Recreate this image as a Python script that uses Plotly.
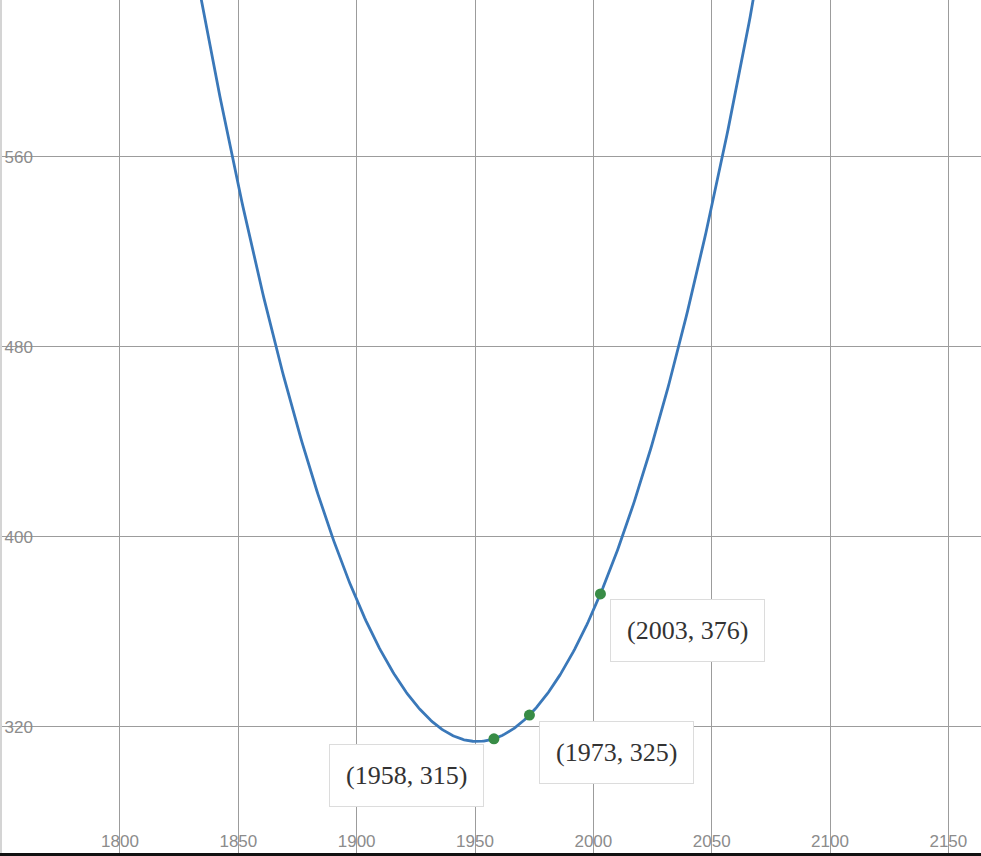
import numpy as np
import plotly.graph_objects as go

# Data points
point_x = [1958, 1973, 2003]
point_y = [315, 325, 376]
point_labels = ["(1958, 315)", "(1973, 325)", "(2003, 376)"]

x_ticks = [1800, 1850, 1900, 1950, 2000, 2050, 2100, 2150]
y_ticks = [320, 400, 480, 560]

x_range = [1749.3, 2163.8]
y_range = [266.9, 626.1]

# Quadratic model through the data points (the drawn parabola)
coef = np.polyfit(point_x, point_y, 2)
curve_x = np.linspace(x_range[0], x_range[1], 800)
curve_y = np.polyval(coef, curve_x)

fig = go.Figure()
fig.add_trace(go.Scatter(
    x=curve_x, y=curve_y, mode="lines",
    line=dict(color="#3a78b9", width=2.8),
    hoverinfo="skip", showlegend=False,
))
fig.add_trace(go.Scatter(
    x=point_x, y=point_y, mode="markers",
    marker=dict(color="#388c46", size=11),
    showlegend=False,
))

for px, py, lab in zip(point_x, point_y, point_labels):
    xs = -87 if px == point_x[0] else 87
    fig.add_annotation(
        x=px, y=py, text=lab, showarrow=False,
        xshift=xs, yshift=-37,
        font=dict(family="Liberation Serif, DejaVu Serif, serif", size=26, color="#333333"),
        bgcolor="white", bordercolor="#dcdcdc", borderwidth=1, borderpad=16,
    )

grid_color = "#9c9c9c"
tick_font = dict(family="Liberation Sans, Arial, sans-serif", size=17, color="#8c8c8c")

fig.update_xaxes(
    range=x_range, tickvals=x_ticks, ticktext=[str(v) for v in x_ticks],
    showgrid=True, gridcolor=grid_color, gridwidth=1,
    zeroline=False, showline=False,
    ticklabelposition="inside", tickfont=tick_font, ticks="",
    fixedrange=True,
)
fig.update_yaxes(
    range=y_range, tickvals=y_ticks, ticktext=[str(v) for v in y_ticks],
    showgrid=True, gridcolor=grid_color, gridwidth=1,
    zeroline=False, showline=False,
    ticklabelposition="inside", tickfont=tick_font,
    ticks="inside", ticklen=5, tickcolor="#9c9c9c",
    fixedrange=True,
)

fig.add_shape(type="rect", xref="paper", yref="paper",
              x0=0, x1=1, y0=-0.0045, y1=0,
              fillcolor="#111111", line=dict(width=0), layer="above")
fig.add_shape(type="line", xref="paper", yref="paper",
              x0=0.001, x1=0.001, y0=0, y1=1,
              line=dict(color="#d4d4d4", width=2), layer="above")

fig.update_layout(
    width=981, height=856,
    margin=dict(l=0, r=0, t=0, b=3),
    plot_bgcolor="white", paper_bgcolor="white",
    showlegend=False,
)

fig.write_html("out.html", config={"displayModeBar": False},
               post_script="document.body.style.margin='0';document.body.style.overflow='hidden';")
